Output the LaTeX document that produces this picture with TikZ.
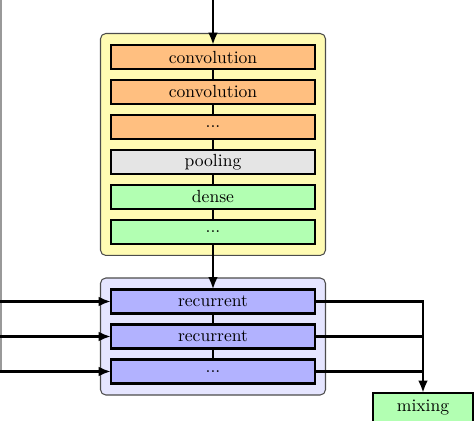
\documentclass[tikz,border=0pt]{standalone}
\usepackage{tikz}
\usepackage{xcolor}
\usetikzlibrary{calc,
	positioning,
	fit,
	backgrounds,
	arrows.meta}

\tikzset{
	layer/.style={draw, very thick, minimum width=4.08cm, minimum height=0.48cm, inner sep=0pt, outer sep=0pt},
	group/.style={draw=black!70, semithick, rounded corners=3pt, inner xsep=0.21cm, inner ysep=0.23cm},
	flow/.style={ultra thick, -{Latex[length=7pt,width=5.5pt]}}
}

\begin{document}
\begin{tikzpicture}[x=0.02cm, y=-0.02cm, node distance=0.22cm]
	\useasboundingbox (0,0) rectangle (474,420);
	\coordinate (in) at (213,0);
	\coordinate (lft) at (0,0);
	% feature extractor
	\node[layer, fill=orange!50] (conv1) at (213,57) {convolution};
	\node[layer, fill=orange!50, below=of conv1] (conv2) {convolution};
	\node[layer, fill=orange!50, below=of conv2] (conv3) {...};
	\node[layer, fill=gray!20, below=of conv3] (pool) {pooling};
	\node[layer, fill=green!30, below=of pool] (dense1) {dense};
	\node[layer, fill=green!30, below=of dense1] (dense2) {...};
	% recurrent part
	\node[layer, fill=blue!30] (rec1) at (213,301.5) {recurrent};
	\node[layer, fill=blue!30, below=of rec1] (rec2) {recurrent};
	\node[layer, fill=blue!30, below=of rec2] (rec3) {...};
	\node[layer, fill=green!30, minimum width=2cm, minimum height=0.6cm] (mix) at (423,408) {mixing};
	\begin{scope}[on background layer]
		\node[group, fill=yellow!30, fit=(conv1) (dense2)] (cnn) {};
		\node[group, fill=blue!10, fit=(rec1) (rec3)] (rnn) {};
	\end{scope}
	\draw[gray!80, line width=1pt] (1,0) -- (1,372);
	\draw[flow] (in) -- (conv1);
	\draw[ultra thick] (conv1) -- (conv2) -- (conv3) -- (pool) -- (dense1) -- (dense2);
	\draw[flow] (dense2) -- (rec1);
	\draw[ultra thick] (rec1) -- (rec2) -- (rec3);
	\foreach \r in {rec1,rec2,rec3} {
		\draw[flow] (\r.west -| lft) -- (\r.west);
	}
	\draw[flow] (rec1.east) -- (rec1.east -| mix.north) -- (mix.north);
	\draw[ultra thick] (rec2.east) -- (rec2.east -| mix.north);
	\draw[ultra thick] (rec3.east) -- (rec3.east -| mix.north);
\end{tikzpicture}
\end{document}
